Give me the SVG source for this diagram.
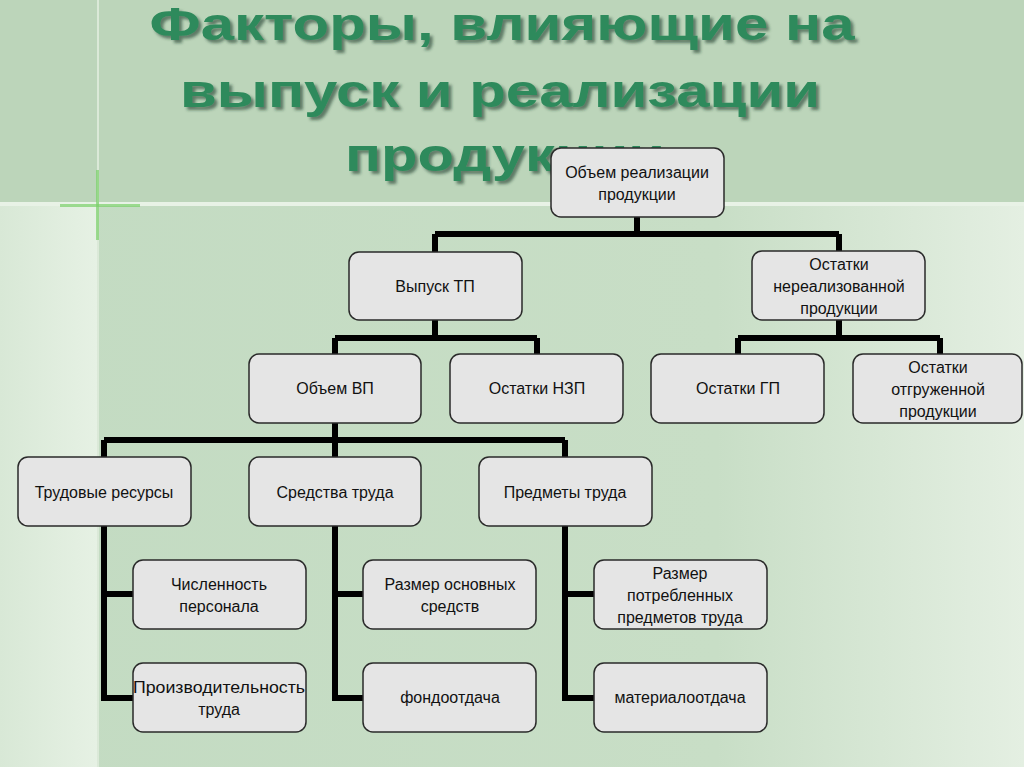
<svg xmlns="http://www.w3.org/2000/svg" width="1024" height="767" viewBox="0 0 1024 767">
<defs>
<linearGradient id="lower" x1="0" y1="0" x2="1" y2="0"><stop offset="0" stop-color="#c3dbc2"/><stop offset="0.7" stop-color="#c8dec6"/><stop offset="1" stop-color="#e4efe2"/></linearGradient>
<linearGradient id="left" x1="0" y1="0" x2="1" y2="0"><stop offset="0" stop-color="#d8e8d6"/><stop offset="1" stop-color="#e6f1e4"/></linearGradient>
<filter id="sh" x="-5%" y="-5%" width="110%" height="120%"><feDropShadow dx="3" dy="3" stdDeviation="1.5" flood-color="#1e3d2a" flood-opacity="0.6"/></filter>
</defs>
<style>
.n rect{fill:#e5e5e5;stroke:#2a2a2a;stroke-width:1.5}
.n text{font-family:"Liberation Sans",Arial,sans-serif;font-size:16px;fill:#111;text-anchor:middle}
.c path{fill:none;stroke:#000;stroke-width:6;stroke-linejoin:miter}
.t{font-family:"Liberation Sans",Arial,sans-serif;font-weight:bold;font-size:47px;fill:#2f8a5c;text-anchor:middle}
</style>
<rect width="1024" height="767" fill="#c4dbc2"/>
<rect x="0" y="0" width="1024" height="205" fill="#bcd5ba"/>
<rect x="0" y="205" width="1024" height="562" fill="url(#lower)"/>
<rect x="0" y="205" width="97" height="562" fill="url(#left)"/>
<rect x="0" y="202" width="1024" height="4" fill="#e8f2e6"/>
<rect x="97" y="0" width="2" height="767" fill="#dbe9d8"/>
<rect x="60" y="204" width="80" height="3" fill="#7ad06a" opacity="0.7"/>
<rect x="96" y="170" width="3" height="70" fill="#7ad06a" opacity="0.7"/>
<g id="title" filter="url(#sh)">
<text class="t" x="502" y="40" textLength="705" lengthAdjust="spacingAndGlyphs">Факторы, влияющие на</text>
<text class="t" x="500" y="107" textLength="640" lengthAdjust="spacingAndGlyphs">выпуск и реализации</text>
<text class="t" x="505" y="171" textLength="320" lengthAdjust="spacingAndGlyphs">продукции</text>
</g>
<g class="c" id="connectors">
<path d="M637 217V234M435 234H839M435 234V252M839 234V252"/>
<path d="M435 320V338M335 338H537M335 338V354M537 338V354"/>
<path d="M839 320V338M738 338H940M738 338V354M940 338V354"/>
<path d="M335 423V440M104 440H565M104 440V457M335 440V457M565 440V457"/>
<path d="M104 526V698H133M104 594H133"/>
<path d="M335 526V698H363M335 594H363"/>
<path d="M565 526V698H594M565 594H594"/>
</g>
<g class="n" id="n1"><rect x="551" y="148" width="173" height="69" rx="10"/><text x="637" y="178">Объем реализации</text><text x="637" y="200">продукции</text></g>
<g class="n" id="n2"><rect x="349" y="252" width="173" height="68" rx="10"/><text x="435" y="292">Выпуск ТП</text></g>
<g class="n" id="n3"><rect x="752" y="251" width="173" height="69" rx="10"/><text x="839" y="270">Остатки</text><text x="839" y="292">нереализованной</text><text x="839" y="314">продукции</text></g>
<g class="n" id="n4"><rect x="249" y="354" width="172" height="69" rx="10"/><text x="335" y="394">Объем ВП</text></g>
<g class="n" id="n5"><rect x="450" y="354" width="173" height="69" rx="10"/><text x="537" y="394">Остатки НЗП</text></g>
<g class="n" id="n6"><rect x="651" y="354" width="173" height="69" rx="10"/><text x="738" y="394">Остатки ГП</text></g>
<g class="n" id="n7"><rect x="853" y="354" width="169" height="69" rx="10"/><text x="938" y="373">Остатки</text><text x="938" y="395">отгруженной</text><text x="938" y="417">продукции</text></g>
<g class="n" id="n8"><rect x="18" y="457" width="173" height="69" rx="10"/><text x="104" y="498">Трудовые ресурсы</text></g>
<g class="n" id="n9"><rect x="249" y="457" width="172" height="69" rx="10"/><text x="335" y="498">Средства труда</text></g>
<g class="n" id="n10"><rect x="479" y="457" width="173" height="69" rx="10"/><text x="565" y="498">Предметы труда</text></g>
<g class="n" id="n11"><rect x="133" y="560" width="173" height="69" rx="10"/><text x="219" y="590">Численность</text><text x="219" y="612">персонала</text></g>
<g class="n" id="n12"><rect x="363" y="560" width="173" height="69" rx="10"/><text x="450" y="590">Размер основных</text><text x="450" y="612">средств</text></g>
<g class="n" id="n13"><rect x="594" y="560" width="173" height="69" rx="10"/><text x="680" y="579">Размер</text><text x="680" y="601">потребленных</text><text x="680" y="623">предметов труда</text></g>
<g class="n" id="n14"><rect x="133" y="663" width="173" height="69" rx="10"/><text x="219" y="693" textLength="172" lengthAdjust="spacingAndGlyphs">Производительность</text><text x="219" y="715">труда</text></g>
<g class="n" id="n15"><rect x="363" y="663" width="173" height="69" rx="10"/><text x="450" y="703">фондоотдача</text></g>
<g class="n" id="n16"><rect x="594" y="663" width="173" height="69" rx="10"/><text x="680" y="703">материалоотдача</text></g>
</svg>
